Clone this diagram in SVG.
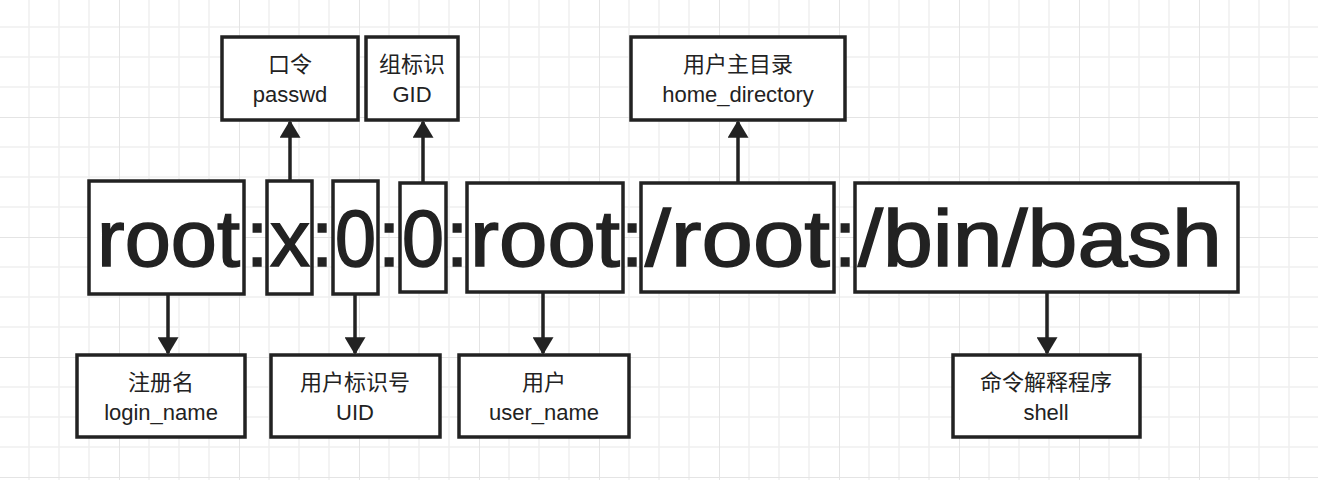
<svg xmlns="http://www.w3.org/2000/svg" width="1318" height="480" viewBox="0 0 1318 480">
<defs>
<pattern id="g" x="-1" y="-3" width="120" height="120" patternUnits="userSpaceOnUse">
<path d="M30 0V120M60 0V120M90 0V120M0 30H120M0 60H120M0 90H120" stroke="#efefef" stroke-width="1.5" fill="none"/>
<path d="M0 0V120M0 0H120" stroke="#e4e4e4" stroke-width="2" fill="none"/>
</pattern>
<marker id="a" viewBox="0 0 10 12" refX="9" refY="6" markerWidth="5" markerHeight="6" orient="auto" markerUnits="strokeWidth"><path d="M0 0L10 6L0 12z" fill="#222"/></marker>
</defs>
<style>
rect.b{fill:#fff;stroke:#222;stroke-width:3.5}
text{font-family:"Liberation Sans","Noto Sans CJK SC",sans-serif;fill:#222;font-size:22px;text-anchor:middle}
text.big{font-family:"Liberation Sans",sans-serif;font-size:80px;stroke:#222;stroke-width:1.5;text-anchor:start}
text.c{text-anchor:middle}
line{stroke:#222;stroke-width:3.5}
</style>
<rect width="1318" height="480" fill="#fff"/>
<rect width="1318" height="480" fill="url(#g)"/>
<g id="main">
<rect class="b" x="89" y="181" width="155" height="113"/>
<rect class="b" x="267" y="181" width="45" height="113"/>
<rect class="b" x="333" y="181" width="45" height="113"/>
<rect class="b" x="400" y="183" width="46" height="109"/>
<rect class="b" x="467" y="183" width="156" height="109"/>
<rect class="b" x="641" y="183" width="193" height="109"/>
<rect class="b" x="855" y="183" width="383" height="109"/>
<text class="big" x="97" y="266" textLength="143" lengthAdjust="spacingAndGlyphs">root</text>
<text class="big c" x="257" y="266">:</text>
<text class="big" x="270" y="266" textLength="40" lengthAdjust="spacingAndGlyphs">x</text>
<text class="big c" x="322" y="266">:</text>
<text class="big" x="335" y="266" textLength="41" lengthAdjust="spacingAndGlyphs">0</text>
<text class="big c" x="389" y="266">:</text>
<text class="big" x="402" y="266" textLength="42" lengthAdjust="spacingAndGlyphs">0</text>
<text class="big c" x="457" y="266">:</text>
<text class="big" x="470" y="266" textLength="150" lengthAdjust="spacingAndGlyphs">root</text>
<text class="big c" x="632" y="266">:</text>
<text class="big" x="645" y="266" textLength="185" lengthAdjust="spacingAndGlyphs">/root</text>
<text class="big c" x="845" y="266">:</text>
<text class="big" x="858" y="266" textLength="364" lengthAdjust="spacingAndGlyphs">/bin/bash</text>
</g>
<g id="connectors">
<line x1="290" y1="181" x2="290" y2="122" marker-end="url(#a)"/>
<line x1="423" y1="183" x2="423" y2="122" marker-end="url(#a)"/>
<line x1="738" y1="183" x2="738" y2="122" marker-end="url(#a)"/>
<line x1="168" y1="294" x2="168" y2="353" marker-end="url(#a)"/>
<line x1="355" y1="294" x2="355" y2="353" marker-end="url(#a)"/>
<line x1="543" y1="292" x2="543" y2="353" marker-end="url(#a)"/>
<line x1="1047" y1="292" x2="1047" y2="353" marker-end="url(#a)"/>
</g>
<g id="passwd"><rect class="b" x="222" y="37" width="136" height="83"/><text x="290" y="72">口令</text><text x="290" y="102">passwd</text></g>
<g id="gid"><rect class="b" x="366" y="37" width="92" height="83"/><text x="412" y="72">组标识</text><text x="412" y="102">GID</text></g>
<g id="home"><rect class="b" x="631" y="37" width="214" height="83"/><text x="738" y="72">用户主目录</text><text x="738" y="102">home_directory</text></g>
<g id="login"><rect class="b" x="77" y="355" width="168" height="82"/><text x="161" y="390">注册名</text><text x="161" y="420">login_name</text></g>
<g id="uid"><rect class="b" x="271" y="355" width="169" height="82"/><text x="355" y="390">用户标识号</text><text x="355" y="420">UID</text></g>
<g id="user"><rect class="b" x="459" y="355" width="170" height="82"/><text x="544" y="390">用户</text><text x="544" y="420">user_name</text></g>
<g id="shell"><rect class="b" x="953" y="355" width="187" height="82"/><text x="1046" y="390">命令解释程序</text><text x="1046" y="420">shell</text></g>
</svg>
